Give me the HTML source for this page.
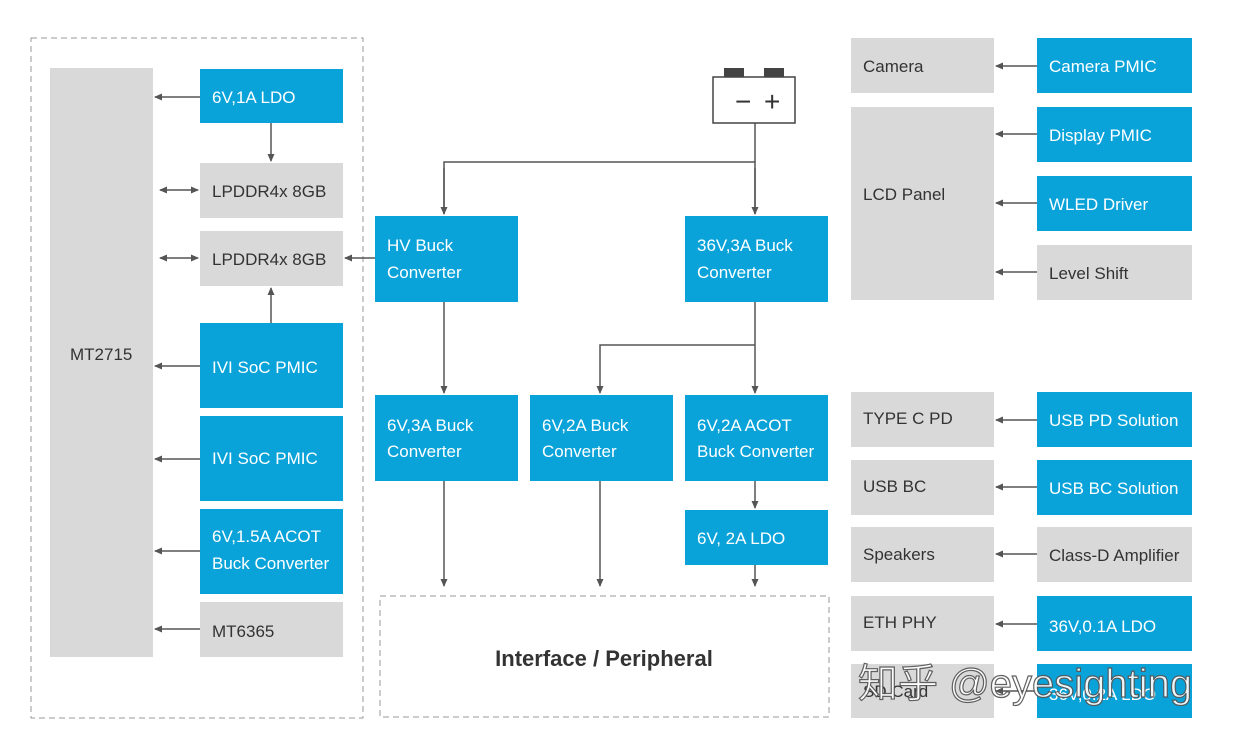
<!DOCTYPE html>
<html><head><meta charset="utf-8"><style>
body{margin:0;background:#fff;width:1233px;height:736px;overflow:hidden}
svg text{font-family:"Liberation Sans",sans-serif;font-size:17px}
.b{fill:#0aa3d9}.g{fill:#d9d9d9}.w{fill:#fff}.d{fill:#333}
.l{stroke:#555;stroke-width:1.5;fill:none}
</style></head><body>
<svg width="1233" height="736" xmlns="http://www.w3.org/2000/svg">
<defs><marker id="a" markerWidth="8" markerHeight="8" refX="7" refY="4" orient="auto" markerUnits="userSpaceOnUse"><path d="M0,0.5 L8,4 L0,7.5z" fill="#555"/></marker>
<marker id="s" markerWidth="8" markerHeight="8" refX="1" refY="4" orient="auto" markerUnits="userSpaceOnUse"><path d="M8,0.5 L0,4 L8,7.5z" fill="#555"/></marker></defs>
<rect x="31" y="38" width="332" height="680" fill="none" stroke="#999" stroke-dasharray="6,4"/>
<rect x="380" y="596" width="449" height="121" fill="none" stroke="#999" stroke-dasharray="6,4"/>
<text x="604" y="666" text-anchor="middle" class="d" style="font-size:22px;font-weight:bold">Interface / Peripheral</text>
<rect class="g" x="50" y="68" width="103" height="589"/><text class="d" x="70" y="360">MT2715</text>
<rect class="b" x="200" y="69" width="143" height="54"/><text class="w" x="212" y="103">6V,1A LDO</text>
<rect class="g" x="200" y="163" width="143" height="55"/><text class="d" x="212" y="197">LPDDR4x 8GB</text>
<rect class="g" x="200" y="231" width="143" height="55"/><text class="d" x="212" y="265">LPDDR4x 8GB</text>
<rect class="b" x="200" y="323" width="143" height="85"/><text class="w" x="212" y="373">IVI SoC PMIC</text>
<rect class="b" x="200" y="416" width="143" height="85"/><text class="w" x="212" y="464">IVI SoC PMIC</text>
<rect class="b" x="200" y="509" width="143" height="85"/><text class="w" x="212" y="542">6V,1.5A ACOT</text><text class="w" x="212" y="569">Buck Converter</text>
<rect class="g" x="200" y="602" width="143" height="55"/><text class="d" x="212" y="637">MT6365</text>
<g class="l">
<line x1="200" y1="97" x2="155" y2="97" marker-end="url(#a)"/>
<line x1="160" y1="190" x2="198" y2="190" marker-start="url(#s)" marker-end="url(#a)"/>
<line x1="160" y1="258" x2="198" y2="258" marker-start="url(#s)" marker-end="url(#a)"/>
<line x1="200" y1="366" x2="155" y2="366" marker-end="url(#a)"/>
<line x1="200" y1="459" x2="155" y2="459" marker-end="url(#a)"/>
<line x1="200" y1="551" x2="155" y2="551" marker-end="url(#a)"/>
<line x1="200" y1="629" x2="155" y2="629" marker-end="url(#a)"/>
<line x1="271" y1="123" x2="271" y2="161" marker-end="url(#a)"/>
<line x1="271" y1="323" x2="271" y2="288" marker-end="url(#a)"/>
<line x1="375" y1="258" x2="345" y2="258" marker-end="url(#a)"/>
<line x1="755" y1="123" x2="755" y2="162"/>
<polyline points="444,214 444,162 755,162 755,214" />
<line x1="444" y1="168" x2="444" y2="214" marker-end="url(#a)"/>
<line x1="755" y1="168" x2="755" y2="214" marker-end="url(#a)"/>
<line x1="444" y1="302" x2="444" y2="393" marker-end="url(#a)"/>
<line x1="755" y1="302" x2="755" y2="393" marker-end="url(#a)"/>
<polyline points="755,345 600,345 600,393" marker-end="url(#a)"/>
<line x1="755" y1="481" x2="755" y2="508" marker-end="url(#a)"/>
<line x1="444" y1="481" x2="444" y2="586" marker-end="url(#a)"/>
<line x1="600" y1="481" x2="600" y2="586" marker-end="url(#a)"/>
<line x1="755" y1="565" x2="755" y2="586" marker-end="url(#a)"/>
</g>
<rect x="724" y="68" width="20" height="9" fill="#444"/><rect x="764" y="68" width="20" height="9" fill="#444"/>
<rect x="713" y="77" width="82" height="46" fill="#fff" stroke="#444" stroke-width="1.5"/>
<text x="735" y="111" class="d" style="font-size:28px">−</text><text x="764" y="111" class="d" style="font-size:28px">+</text>
<rect class="b" x="375" y="216" width="143" height="86"/><text class="w" x="387" y="251">HV Buck</text><text class="w" x="387" y="278">Converter</text>
<rect class="b" x="685" y="216" width="143" height="86"/><text class="w" x="697" y="251">36V,3A Buck</text><text class="w" x="697" y="278">Converter</text>
<rect class="b" x="375" y="395" width="143" height="86"/><text class="w" x="387" y="431">6V,3A Buck</text><text class="w" x="387" y="457">Converter</text>
<rect class="b" x="530" y="395" width="143" height="86"/><text class="w" x="542" y="431">6V,2A Buck</text><text class="w" x="542" y="457">Converter</text>
<rect class="b" x="685" y="395" width="143" height="86"/><text class="w" x="697" y="431">6V,2A ACOT</text><text class="w" x="697" y="457">Buck Converter</text>
<rect class="b" x="685" y="510" width="143" height="55"/><text class="w" x="697" y="544">6V, 2A LDO</text>
<rect class="g" x="851" y="38" width="143" height="55"/><text class="d" x="863" y="72">Camera</text>
<rect class="g" x="851" y="107" width="143" height="193"/><text class="d" x="863" y="200">LCD Panel</text>
<rect class="g" x="851" y="392" width="143" height="55"/><text class="d" x="863" y="424">TYPE C PD</text>
<rect class="g" x="851" y="460" width="143" height="55"/><text class="d" x="863" y="492">USB BC</text>
<rect class="g" x="851" y="527" width="143" height="55"/><text class="d" x="863" y="560">Speakers</text>
<rect class="g" x="851" y="596" width="143" height="55"/><text class="d" x="863" y="628">ETH PHY</text>
<rect class="g" x="851" y="664" width="143" height="54"/><text class="d" x="863" y="697">SD Card</text>
<rect class="b" x="1037" y="38" width="155" height="55"/><text class="w" x="1049" y="72">Camera PMIC</text>
<rect class="b" x="1037" y="107" width="155" height="55"/><text class="w" x="1049" y="141">Display PMIC</text>
<rect class="b" x="1037" y="176" width="155" height="55"/><text class="w" x="1049" y="210">WLED Driver</text>
<rect class="g" x="1037" y="245" width="155" height="55"/><text class="d" x="1049" y="279">Level Shift</text>
<rect class="b" x="1037" y="392" width="155" height="55"/><text class="w" x="1049" y="426">USB PD Solution</text>
<rect class="b" x="1037" y="460" width="155" height="55"/><text class="w" x="1049" y="494">USB BC Solution</text>
<rect class="g" x="1037" y="527" width="155" height="55"/><text class="d" x="1049" y="561">Class-D Amplifier</text>
<rect class="b" x="1037" y="596" width="155" height="55"/><text class="w" x="1049" y="632">36V,0.1A LDO</text>
<rect class="b" x="1037" y="664" width="155" height="54"/><text class="w" x="1049" y="700">36V,0.2A LDO</text>
<g class="l">
<line x1="1037" y1="66" x2="996" y2="66" marker-end="url(#a)"/>
<line x1="1037" y1="134" x2="996" y2="134" marker-end="url(#a)"/>
<line x1="1037" y1="203" x2="996" y2="203" marker-end="url(#a)"/>
<line x1="1037" y1="272" x2="996" y2="272" marker-end="url(#a)"/>
<line x1="1037" y1="420" x2="996" y2="420" marker-end="url(#a)"/>
<line x1="1037" y1="487" x2="996" y2="487" marker-end="url(#a)"/>
<line x1="1037" y1="554" x2="996" y2="554" marker-end="url(#a)"/>
<line x1="1037" y1="624" x2="996" y2="624" marker-end="url(#a)"/>
<line x1="1037" y1="691" x2="996" y2="691" marker-end="url(#a)"/>
</g>
<text x="858" y="697" style="font-family:'Liberation Sans','Noto Sans CJK SC',sans-serif;font-size:40px;fill:#fff;stroke:#555;stroke-width:1.2;opacity:0.92">知乎 @eyesighting</text>
</svg>
</body></html>
